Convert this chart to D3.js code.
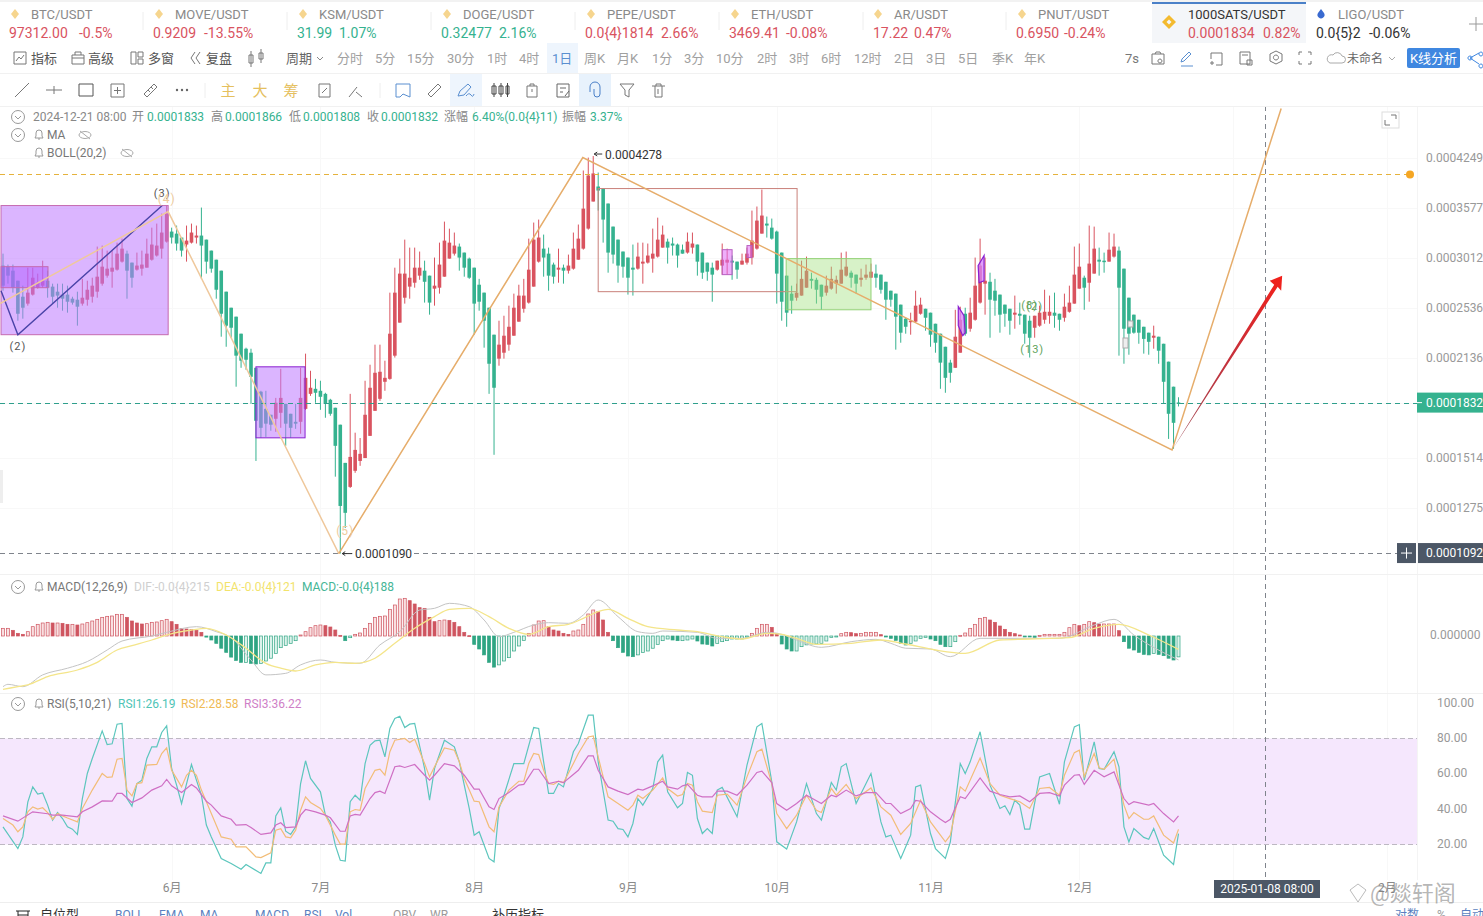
<!DOCTYPE html>
<html lang="en">
<head>
<meta charset="utf-8">
<title>1000SATS/USDT</title>
<script src="https://cdn.jsdelivr.net/npm/d3@7"></script>
<style>
  html, body { margin: 0; padding: 0; background: #fff; overflow: hidden; }
  svg { display: block; }
  text { font-family: Roboto, "Noto Sans CJK SC", sans-serif; }
  .axis .domain, .axis line { display: none; }
</style>
</head>
<body>
<div id="chart"></div>
<script>
// prices are in units of 0.0000001, one entry per daily candle from 2024-04-28
const firstDay = "2024-04-28";
const opens = [
  2935,2924,2884,2786,2637,2575,2656,2720,2739,2786,
  2730,2683,2656,2656,2619,2610,2575,2610,2637,2683,
  2758,2835,2874,2894,2975,3058,2965,2894,2904,2914,
  2995,3038,3111,3187,3299,3276,3232,3155,3176,3232,
  3254,3209,3090,2995,2884,2683,2539,2462,2322,2205,
  2175,2065,1902,1793,1757,1733,1769,1824,1763,1715,
  1715,1793,1888,1921,1908,1888,1850,1800,1698,1489,
  1371,1449,1499,1514,1634,1781,1856,1968,1988,2153,
  2412,2628,2730,2767,2835,2884,2835,2711,2720,2825,
  3006,3058,3133,3069,3006,2914,2748,2674,2539,2314,
  2131,2175,2236,2306,2420,2530,2584,2730,2975,3111,
  3058,2945,2894,2914,2884,2904,2995,3111,3333,3658,
  3852,3825,3633,3356,3209,3080,3017,2914,2904,2955,
  2965,3006,3027,3122,3187,3166,3155,3100,3069,3122,
  3155,3069,2965,2914,2894,2935,2965,2985,2975,2945,
  2965,3017,3111,3276,3391,3344,3299,3069,2835,2665,
  2628,2647,2720,2804,2795,2748,2674,2711,2758,2758,
  2835,2864,2845,2795,2815,2815,2855,2845,2776,2692,
  2665,2566,2445,2420,2420,2487,2530,2496,2403,2322,
  2220,2102,2065,2175,2487,2362,2436,2584,2758,2776,
  2692,2656,2566,2530,2479,2487,2479,2428,2370,2387,
  2436,2470,2496,2487,2453,2504,2575,2711,2815,2767,
  2855,2995,2985,2975,3027,3090,2904,2628,2479,2436,
  2378,2330,2290,2298,2243,2109,1935,1833
];
const highs = [
  3058,2945,2945,2786,2739,2914,2914,2855,2985,2884,
  2758,2758,2758,2739,2637,2683,2804,2786,2815,3133,
  3144,3090,3090,3176,3220,3090,2965,3069,3090,3220,
  3344,3391,3510,3608,3344,3368,3232,3368,3391,3368,
  3583,3209,3090,2995,2884,2683,2539,2462,2322,2213,
  2205,2065,1908,1908,1757,1862,2058,1824,1763,1824,
  2065,2168,2044,1988,1975,1895,1856,1800,1698,1489,
  1888,1652,1622,1975,2087,2236,2236,2116,2674,2914,
  3006,3209,3122,3122,3080,2985,2835,3017,3176,3414,
  3332,3288,3166,3069,3017,2914,2804,2674,2539,2314,
  2428,2470,2557,2665,2748,2804,3220,3403,3438,3265,
  3122,2965,3111,2945,3048,3288,3380,4070,4255,4278,
  4042,3825,3633,3356,3209,3080,3017,3155,3176,3176,
  3166,3333,3461,3368,3220,3232,3166,3155,3288,3288,
  3155,3069,2965,2965,2985,3166,3111,3038,2975,3058,
  3122,3546,3596,3812,3474,3450,3310,3069,2835,2739,
  2758,2985,3027,2864,2815,2748,2835,2924,2835,3069,
  3080,2884,2845,2904,2945,2955,2945,2845,2776,2692,
  2665,2566,2453,2496,2692,2628,2530,2496,2403,2322,
  2220,2123,2521,2548,2539,2628,3017,3220,3017,2864,
  2804,2656,2566,2530,2647,2584,2479,2470,2470,2557,
  2701,2647,2674,2487,2665,2739,3133,3166,2835,3368,
  3356,3122,3069,3288,3276,3133,2904,2628,2479,2436,
  2378,2330,2387,2298,2243,2109,1935,1866
];
const lows = [
  2692,2758,2674,2428,2445,2557,2647,2711,2720,2628,
  2575,2539,2513,2496,2566,2387,2557,2557,2584,2628,
  2739,2815,2720,2884,2965,2619,2720,2884,2835,2914,
  2985,3027,3006,3176,3166,3090,3027,2975,3166,3166,
  2804,2855,2864,2619,2298,2220,2290,1935,2065,2051,
  1824,1499,1623,1628,1663,1657,1680,1579,1623,1674,
  1646,1787,1875,1831,1787,1739,1751,1420,1090,1190,
  1366,1439,1474,1514,1634,1781,1843,1908,1982,2139,
  2412,2575,2619,2720,2795,2584,2479,2557,2665,2825,
  3006,3038,2884,2825,2804,2314,2513,2213,1888,1531,
  2080,2131,2190,2306,2420,2496,2575,2730,2965,2825,
  2692,2758,2767,2758,2855,2894,2995,3100,3321,3658,
  3546,3176,2864,2955,2767,2815,2656,2647,2894,2758,
  2955,2864,3017,3122,2955,3038,2914,3058,3058,3058,
  2835,2804,2786,2592,2884,2845,2845,2795,2804,2945,
  2945,2945,3100,3276,3232,3209,2575,2428,2378,2487,
  2601,2647,2720,2711,2575,2521,2647,2701,2665,2758,
  2825,2720,2665,2730,2795,2815,2720,2665,2436,2548,
  2198,2251,2322,2314,2412,2479,2346,2220,2175,1921,
  1895,1962,2065,2175,2306,2338,2428,2575,2479,2290,
  2470,2330,2378,2314,2362,2395,2243,2139,2290,2378,
  2403,2403,2370,2346,2420,2496,2575,2711,2521,2592,
  2855,2835,2864,2975,3017,2153,2094,2160,2322,2243,
  2168,2160,2205,2094,1824,1617,1563,1808
];
const closes = [
  2739,2835,2720,2487,2539,2674,2815,2767,2786,2720,
  2637,2647,2619,2592,2584,2548,2628,2701,2739,2825,
  2924,2904,2914,3058,3111,2884,2815,2935,2945,3058,
  3155,3144,3288,3510,3232,3166,3090,3198,3288,3254,
  3144,2975,2904,2701,2487,2387,2370,2153,2116,2123,
  2002,1721,1680,1704,1698,1831,1862,1704,1680,1704,
  1862,1995,1928,1895,1869,1824,1763,1579,1284,1254,
  1520,1557,1536,1757,1928,2030,2037,1995,2322,2674,
  2855,2855,2815,2914,2914,2776,2584,2739,2945,3198,
  3176,3144,3017,2914,2815,2575,2592,2428,2094,1928,
  2236,2306,2378,2539,2647,2647,2894,3209,3232,3017,
  2835,2825,2914,2884,2935,3111,3220,3570,4001,4029,
  3799,3438,3069,3048,2935,2924,2815,2894,3027,2975,
  3038,3058,3209,3265,3122,3144,3038,3058,3187,3166,
  2975,2864,2874,2845,2985,2995,2995,2965,2894,2985,
  3058,3198,3426,3486,3368,3220,2855,2592,2496,2601,
  2674,2804,2884,2786,2701,2637,2739,2804,2795,2894,
  2924,2815,2758,2815,2845,2874,2815,2701,2610,2610,
  2462,2330,2378,2428,2557,2566,2453,2314,2251,2102,
  1995,2030,2298,2436,2322,2496,2739,2935,2786,2610,
  2601,2479,2487,2428,2496,2470,2322,2290,2470,2496,
  2504,2504,2470,2436,2548,2584,2845,2924,2720,2955,
  3111,2975,2975,3100,3133,2720,2362,2322,2330,2330,
  2281,2258,2306,2190,1968,1763,1709,1832
];
// MACD histogram, units of 0.000001
const macdBars = [
  6.9,6.9,5.1,2.4,1.5,3.9,8.4,10.5,11.7,12.3,
  11.7,11.7,11.4,10.5,10.5,9.9,10.8,12,13.5,15,
  16.8,17.7,18,19.5,19.5,16.8,13.5,11.7,10.8,11.1,
  12.3,12.6,13.8,15,12.9,10.5,6.6,6.3,6,5.1,
  3.3,-1,-3.6,-6.6,-11,-14.7,-19,-22,-23.7,-23.7,
  -24.6,-25.2,-24.6,-22.5,-20,-15.6,-10.5,-8.4,-6.6,-4.2,
  0.9,3.9,7.5,9.3,9.9,9.3,8.1,5.4,0.6,-4.2,
  -1.5,1.5,2.7,6.9,11.4,16.8,17.7,18,24,27.9,
  33.3,33.9,31.8,28.8,25.5,24.9,16.8,12.9,13.8,14.4,
  14.1,12.3,8.4,3.3,0.3,-7.5,-11.7,-17,-23.7,-28,
  -26,-22.5,-19.5,-13.5,-9,-3.9,2.4,9.9,13.5,13.8,
  8.4,5.4,4.5,2.4,1.5,4.5,5.4,10.5,19.8,23.4,
  21.9,14.4,3.3,-4.2,-10.5,-14.7,-18,-18.6,-17,-14.7,
  -13.5,-11,-7.5,-4.2,-2.7,-3.6,-4.2,-4.2,-3.6,-2.7,
  -4.5,-7.2,-7.5,-9,-6.6,-5.1,-4.2,-2.7,-2.7,-2.7,
  -1,2.4,6.9,10.5,10.5,7.8,2.4,-7.2,-11.7,-13.5,
  -13.5,-9.6,-8,-7.2,-7.2,-6.6,-4.5,-1.2,-0.6,2.1,
  3.3,3,2.1,2.4,3.3,3.3,3.3,1.2,-0.9,-2.1,
  -3.9,-6.6,-8.1,-6.6,-4.5,-2.1,-1.2,-2.7,-4.2,-7.5,
  -9.6,-9.6,-5.1,0.6,2.7,6.9,10.5,15.9,16.8,14.4,
  12.3,9,6,3.3,2.1,0.9,-0.6,-0.9,-1.2,0.6,
  1.5,1.5,1.5,1.5,3.3,7.5,10.5,9.3,10.5,12.9,
  12,10.8,10.8,10.8,10.8,4.8,-5.1,-11,-12.6,-14.7,
  -16.5,-17,-15.6,-16.5,-17.7,-20,-21.6,-18.8
];
// lines below are [candle number, value] read at their turning points
const difLine = [[0,-45.6],[1,-43.5],[4,-45.6],[8,-35],[13,-29],[17,-23],[21,-12.6],[24,-4.5],[30,0],[33,3.3],[39,8.4],[43,3.9],[46,-1.5],[50,-21.6],[53,-35],[57,-33.6],[60,-26],[64,-21.6],[67,-23.7],[72,-24.6],[76,-8],[80,3.9],[84,23.4],[87,24.9],[90,29.4],[94,26.4],[97,14.4],[100,-0.6],[103,3.3],[107,9.9],[110,12],[114,11.4],[117,18.9],[120,32.4],[124,17.4],[128,3.9],[131,2.4],[133,4.5],[140,3.3],[144,-2.1],[149,-2.1],[154,3.3],[157,1.5],[160,-3.6],[165,-10.2],[171,-5.1],[176,-3],[179,-6.6],[182,-11],[187,-11.7],[191,-18.6],[197,-2.1],[202,-2.1],[213,-2.1],[220,9.9],[224,15],[228,0.9],[237,-21.5]];
const deaLine = [[0,-48],[3,-45.6],[5,-44],[9,-36.6],[15,-30.6],[19,-23.7],[23,-12.6],[26,-8.7],[30,-3.6],[33,0.9],[38,5.4],[41,6.9],[45,0.9],[49,-11],[53,-24.6],[56,-29],[59,-31.5],[63,-26],[67,-23.7],[71,-24.6],[75,-20],[79,-6.6],[83,6.9],[87,17.4],[90,24],[94,24.9],[98,17.4],[102,6.9],[106,1.5],[110,8.4],[114,10.5],[117,15.9],[120,21.9],[122,24],[126,15.9],[130,8.4],[136,5.4],[140,3.9],[145,-0.6],[149,-2.7],[154,2.4],[157,1.5],[160,-2.1],[164,-7.5],[171,-6.6],[177,-3.6],[182,-7.2],[188,-12.6],[194,-15.6],[201,-3.6],[207,-2.7],[215,-1.5],[220,6.9],[225,10.5],[231,0.9],[237,-12.1]];
const rsi1 = [[0,30],[3,17.7],[4,24.3],[5,44],[6,52.6],[7,48.5],[8,49.2],[9,42.3],[10,33.8],[11,38.1],[12,34.7],[13,30],[14,28.7],[15,25.7],[16,46],[17,60.2],[18,68.7],[20,84.3],[21,76.6],[22,77],[23,88.1],[24,88.5],[25,46],[26,41.7],[27,54.5],[28,56.4],[29,68.7],[30,75.3],[31,75.3],[32,83.4],[33,87.2],[34,63],[35,53.6],[36,43.2],[38,65.3],[39,56.4],[40,47.9],[41,31],[42,24.3],[44,12.1],[46,9.2],[48,6],[49,8.7],[52,3.6],[53,9.6],[54,9.6],[55,36.2],[56,40.8],[57,27.5],[58,25.7],[59,30],[60,54.5],[61,67.4],[62,57.4],[64,49.8],[65,36.6],[66,32.8],[67,19.6],[68,11.1],[69,10.6],[70,44.2],[71,47.9],[72,45.1],[73,65.8],[74,76.2],[75,78.7],[76,79],[77,69.6],[78,85.7],[79,91.3],[80,92.6],[81,86.2],[82,88.1],[83,88.5],[85,63],[86,45.1],[87,63],[89,79],[91,75.3],[92,66.8],[93,53.6],[94,40.4],[95,25.3],[96,27.2],[98,12.1],[99,10.2],[100,40.4],[101,47.9],[103,65.8],[105,65.8],[107,86.2],[108,85.7],[109,66.8],[110,48.9],[111,48.9],[112,54.5],[113,52.6],[115,72.5],[116,77.2],[118,93.2],[119,93.2],[120,66.8],[122,33.8],[123,33.2],[124,29],[125,28.5],[126,24.3],[127,31.9],[128,46],[129,42.3],[131,51.7],[132,66.8],[133,70.6],[134,49.8],[136,40.8],[137,43.2],[138,60.8],[139,59.2],[140,34.7],[141,26.2],[142,29],[143,26.2],[144,50.8],[145,52.3],[148,35.7],[150,64.9],[152,86.6],[153,88.5],[155,55.5],[156,21.5],[158,17.4],[160,32.8],[162,54.5],[164,37.5],[165,33.8],[167,55.1],[168,50.8],[169,64],[170,65.8],[172,43.2],[175,60.2],[177,32.8],[178,24.3],[179,25.3],[181,12.1],[183,25.3],[184,52.6],[185,53.6],[187,26.2],[188,17.7],[190,12.1],[191,21.5],[193,65.8],[194,60.2],[195,66.8],[197,83.8],[199,53.6],[201,40.4],[202,41.9],[203,37],[204,45.1],[205,42.3],[206,28.7],[207,28.7],[209,58.3],[211,60.2],[213,42.8],[214,66.8],[216,86.6],[217,87.9],[218,56.4],[220,78.1],[221,63],[222,62.6],[224,72.5],[225,64],[226,30],[227,21.5],[228,29],[230,24],[231,23],[232,29],[234,14],[236,8.7],[237,26.19]];
const rsi2 = [[0,34.7],[2,31],[3,27.2],[4,30],[5,38.5],[6,41.3],[7,40],[8,40.8],[9,38],[10,34.3],[11,37.5],[12,36.2],[13,35],[15,32.8],[16,40.4],[18,50.8],[20,60.2],[21,58],[22,58.3],[23,68.3],[24,68.7],[25,50.8],[26,47.5],[27,54.5],[28,55],[29,64.9],[31,65.3],[32,71.5],[33,74.7],[34,62],[35,57.4],[36,52.6],[37,59.2],[38,62],[39,59.2],[40,50.8],[42,37.5],[44,24.3],[46,23],[47,18.7],[49,18.7],[51,13],[52,12.6],[54,15.3],[55,28.1],[56,29],[57,24.3],[58,23.8],[59,28.1],[60,39.4],[61,47],[62,43.8],[64,40.4],[65,36.6],[67,25.3],[68,20.2],[69,20.2],[70,38.5],[71,39.8],[72,39.4],[73,51.7],[75,62],[76,62.6],[77,59.2],[78,72.5],[79,79],[81,80],[82,77.7],[83,79.6],[85,65.8],[86,58.3],[87,64],[89,74.7],[91,73.4],[92,66.8],[93,57.4],[95,44.5],[96,44.2],[98,30],[99,27.2],[100,41.3],[102,50.8],[104,55.8],[105,55.8],[106,65.8],[107,71.5],[108,70.9],[109,62],[110,54.5],[111,54],[112,55.8],[113,55],[115,65.8],[116,71.5],[118,80.9],[119,81.5],[120,69.6],[122,47],[124,43.2],[126,39.4],[127,42.3],[128,47.9],[129,46],[131,50.8],[133,57.7],[134,51.7],[136,47.4],[137,48.3],[138,54.5],[139,53.6],[140,44.2],[141,38.9],[143,38.1],[144,47.9],[146,48.5],[148,42.3],[150,58.3],[152,72.5],[153,74],[155,54.5],[156,37.5],[158,29],[160,36.6],[162,47.9],[164,39.4],[165,38.1],[167,51.7],[168,47.9],[170,54],[172,46],[175,52],[177,41.3],[179,36.6],[181,25.7],[183,31.9],[185,45.1],[187,32.8],[189,25.3],[190,21.5],[191,25.3],[193,52.6],[194,50.2],[197,69],[199,54.5],[201,47.9],[203,46],[205,44.2],[207,40.4],[209,51.7],[211,52.3],[213,47.9],[214,59.2],[216,72],[217,73.4],[218,58.3],[220,71.5],[221,63.4],[222,62.6],[224,68.3],[226,42.3],[227,34.7],[228,38.1],[230,34.3],[231,34.3],[232,36.2],[234,25.3],[236,20.9],[237,28.58]];
const rsi3 = [[0,36.2],[3,33.2],[6,38.5],[9,37.4],[10,36.6],[12,36.6],[15,35.7],[16,38.5],[18,41.3],[20,44.7],[22,44.5],[23,48.9],[24,48.9],[26,43.8],[28,46.4],[30,50.8],[32,53.2],[33,56.8],[34,53.2],[36,49.4],[38,54],[39,52],[41,44.5],[42,42.3],[44,36.2],[46,34.3],[47,31],[49,31.3],[50,29.6],[52,25.7],[54,26.6],[55,31],[56,32.3],[57,29.6],[59,30],[60,36.6],[61,39.8],[63,38.5],[65,36.6],[66,35.1],[68,27.5],[69,27.5],[70,36.2],[71,37],[72,36.6],[74,46],[75,49.4],[76,50.2],[77,48.9],[79,64],[80,64.5],[81,63.6],[83,65.3],[85,59.2],[86,56.4],[87,59.2],[89,65.8],[91,64.5],[93,59.2],[95,51.3],[96,51.3],[98,41.3],[99,39.8],[100,46],[102,49.4],[104,53.6],[105,54],[106,58.3],[107,62.6],[108,62.6],[110,54.5],[112,55.8],[113,55],[116,62],[118,70.2],[119,70.2],[120,62],[122,52.6],[124,50.2],[126,48.3],[128,51.3],[129,50.8],[131,53.2],[133,55.8],[134,52.6],[136,51.3],[137,53.2],[138,54],[140,47.9],[141,47],[143,47],[144,50.2],[146,50.2],[148,47.9],[150,53.6],[152,60.8],[153,61.5],[155,55.1],[156,43.2],[158,39.4],[160,43.2],[162,47.9],[165,43.2],[167,47.9],[168,47],[170,50.8],[172,47.5],[174,49.4],[176,49.4],[178,43.2],[179,43.2],[181,37.5],[183,40.4],[184,44.9],[185,44.5],[187,38.5],[189,34.3],[190,32.5],[191,34.3],[193,47],[194,46],[197,57.7],[199,50.2],[201,48.3],[203,47],[205,47.5],[207,44.2],[209,48.9],[211,49.4],[213,47.4],[214,53.6],[216,59.2],[217,59.6],[218,54],[220,62],[222,58.3],[224,61.1],[225,53.6],[226,46],[227,42.6],[228,44.2],[231,42.3],[232,43.2],[234,37.5],[236,32.8],[237,36.22]];

const priceTicks = [4249,3577,3012,2536,2136,1514,1275];
const rsiTicks = [100,80,60,40,20];
const monthDates = ["2024-06-01","2024-07-01","2024-08-01","2024-09-01","2024-10-01","2024-11-01","2024-12-01","2025-02-01"];
const monthLabels = ["6月","7月","8月","9月","10月","11月","12月","2月"];
const hiddenMonth = "2025-01-01"; // its label sits under the cursor date tag

// hand drawn things on the chart, as [candle number, price]
const waveOrangeEarly = [[-0.6,2575],[33.3,3534],[67.7,1090]];
const waveOrangeLate = [[67.7,1090],[116.9,4255],[235.7,1557],[257.7,5037]];
const waveBlue = [[-0.4,2692],[3,2314],[32.1,3608]];
const purpleBoxes = [[-0.4,33.3,3608,2314],[-0.4,9.07,2924,2720],[51,60.9,2072,1623]];
const pinkBoxes = [[145,147,3100,2845],[150,151,3144,3017]];
const outlineBox = [120,160.1,3825,2683];
const greenBox = [157.9,175,3006,2521];
const purpleShapes = [
  [[192.6,2548],[193.75,2470],[194,2330],[193.5,2306],[192.6,2387]],
  [[197.8,3038],[197.8,2786],[196.8,2767],[196.6,2935]]
];
const redArrow = [[235.7,1557],[256.3,2748],[255.4,2786],[257.9,2835],[257.7,2692],[257,2730]];
const resistancePrice = 4015, lastPrice = 1832, cursorPrice = 1092, cursorDay = 254.5;

const tabNames = ["BTC/USDT","MOVE/USDT","KSM/USDT","DOGE/USDT","PEPE/USDT","ETH/USDT","AR/USDT","PNUT/USDT","1000SATS/USDT","LIGO/USDT"];
const tabPrices = ["97312.00","0.9209","31.99","0.32477","0.0{4}1814","3469.41","17.22","0.6950","0.0001834","0.0{5}2"];
const tabChanges = ["-0.5%","-13.55%","1.07%","2.16%","2.66%","-0.08%","0.47%","-0.24%","0.82%","-0.06%"];
const tabColors = ["r","r","g","g","r","r","r","r","r","k"];
const tabNameX = [31,175,319,463,607,751,894,1038,1188,1338];
const tabPriceX = [9,153,297,441,585,729,873,1016,1188,1316];
const tabChangeX = [79,204,339,499,661,786,914,1064,1263,1369];

const periods = ["分时","5分","15分","30分","1时","4时","1日","周K","月K","1分","3分","10分","2时","3时","6时","12时","2日","3日","5日","季K","年K"];
const periodX = [337,375,407,447,487,519,552,584,617,652,684,716,757,789,821,854,894,926,958,992,1024];

const green = "#35b28f", red = "#d9535f";

const svg = d3.select("#chart").append("svg").attr("width", 1483).attr("height", 916);
const defs = svg.append("defs");
defs.append("clipPath").attr("id", "mainClip").append("rect").attr("x", 0).attr("y", 106).attr("width", 1417).attr("height", 468);

const parseDay = d3.utcParse("%Y-%m-%d");
const start = parseDay(firstDay);
const x = d3.scaleUtc().domain([start, d3.utcDay.offset(start, 237)]).range([3, 1178.5]);
const dayX = d => x(new Date(+start + d * 864e5));
const y = d3.scaleLog().domain([1275, 4249]).range([508, 158]);
const macdY = d3.scaleLinear().domain([-45, 45]).range([686, 586]);
const rsiY = d3.scaleLinear().domain([20, 80]).range([844.5, 738.5]);
const snap = v => Math.round(v) + .5;

function label(g, txt, px, py, color, size, anchor) {
  return g.append("text").attr("x", px).attr("y", py).attr("fill", color || "#777")
    .attr("font-size", size || 12).attr("text-anchor", anchor || "start").text(txt);
}

// ---- grid
const grid = svg.append("g");
[...priceTicks, 1832].forEach(v => {
  grid.append("line").attr("x1", 0).attr("x2", 1417).attr("y1", snap(y(v))).attr("y2", snap(y(v))).attr("stroke", "#f8f8f8");
});
[...monthDates, hiddenMonth].forEach(m => {
  const px = snap(x(parseDay(m)));
  grid.append("line").attr("x1", px).attr("x2", px).attr("y1", 106).attr("y2", 880).attr("stroke", "#f8f8f8");
});
grid.append("line").attr("x1", 1417.5).attr("x2", 1417.5).attr("y1", 106).attr("y2", 880).attr("stroke", "#f4f4f4");
[574.5, 693.5].forEach(py => grid.append("line").attr("x1", 0).attr("x2", 1483).attr("y1", py).attr("y2", py).attr("stroke", "#f1f1f1"));

// ---- candles
const main = svg.append("g").attr("clip-path", "url(#mainClip)");
const candles = d3.range(opens.length);
const candleColor = i => closes[i] >= opens[i] ? red : green;
main.selectAll("line.wick").data(candles).join("line").attr("class", "wick")
  .attr("x1", dayX).attr("x2", dayX)
  .attr("y1", i => y(highs[i])).attr("y2", i => y(lows[i]))
  .attr("stroke", candleColor).attr("stroke-width", 1);
main.selectAll("rect.body").data(candles).join("rect").attr("class", "body")
  .attr("x", i => dayX(i) - 1.8).attr("width", 3.6)
  .attr("y", i => y(Math.max(opens[i], closes[i])))
  .attr("height", i => Math.max(1.5, Math.abs(y(opens[i]) - y(closes[i]))))
  .attr("fill", candleColor);

// ---- boxes over the candles
function box(b, fill, stroke) {
  main.append("rect").attr("x", dayX(b[0])).attr("width", dayX(b[1]) - dayX(b[0]))
    .attr("y", y(b[2])).attr("height", y(b[3]) - y(b[2]))
    .attr("fill", fill).attr("stroke", stroke).attr("stroke-width", 1);
}
box(purpleBoxes[0], "rgba(190,120,255,.55)", "#c56ab0");
box(purpleBoxes[1], "rgba(175,90,255,.5)", "#c56ab0");
box(purpleBoxes[2], "rgba(190,120,255,.55)", "#8a1fd0");
pinkBoxes.forEach(b => box(b, "rgba(225,110,245,.55)", "#b860c0"));
box(outlineBox, "none", "#c9807a");
box(greenBox, "rgba(160,225,125,.42)", "#93d176");
const shapeLine = d3.line().x(d => dayX(d[0])).y(d => y(d[1]));
purpleShapes.forEach(s => {
  main.append("path").attr("d", shapeLine(s) + "Z").attr("fill", "rgba(215,130,250,.75)").attr("stroke", "#8a1fd0").attr("stroke-width", 1.2);
});

// ---- dashed price lines
function priceLine(v, color, x2) {
  main.append("line").attr("x1", 0).attr("x2", x2).attr("y1", snap(y(v))).attr("y2", snap(y(v)))
    .attr("stroke", color).attr("stroke-dasharray", "5 4");
}
priceLine(resistancePrice, "#e5b23c", 1410);
priceLine(lastPrice, "#2f9f8c", 1417);
priceLine(cursorPrice, "#7f848c", 1397);
main.append("circle").attr("cx", 1410).attr("cy", snap(y(resistancePrice))).attr("r", 4).attr("fill", "#f5a623");
main.append("line").attr("x1", snap(dayX(cursorDay))).attr("x2", snap(dayX(cursorDay))).attr("y1", 106).attr("y2", 574)
  .attr("stroke", "#7f848c").attr("stroke-dasharray", "5 4");

// ---- wave lines
main.append("path").attr("d", shapeLine(waveBlue)).attr("fill", "none").attr("stroke", "#4a44a8").attr("stroke-width", 1.4);
main.append("path").attr("d", shapeLine(waveOrangeEarly)).attr("fill", "none").attr("stroke", "#efc89c").attr("stroke-width", 1.5);
main.append("path").attr("d", shapeLine(waveOrangeLate)).attr("fill", "none").attr("stroke", "#e6ad6b").attr("stroke-width", 1.5);

const grad = defs.append("linearGradient").attr("id", "arrowFill").attr("gradientUnits", "userSpaceOnUse")
  .attr("x1", dayX(redArrow[0][0])).attr("y1", y(redArrow[0][1])).attr("x2", dayX(redArrow[3][0])).attr("y2", y(redArrow[3][1]));
grad.append("stop").attr("offset", "0").attr("stop-color", "#9c4a55");
grad.append("stop").attr("offset", ".55").attr("stop-color", "#c8303a");
grad.append("stop").attr("offset", "1").attr("stop-color", "#f2201a");
main.append("path").attr("d", shapeLine(redArrow) + "Z").attr("fill", "url(#arrowFill)");

// wave numbers and the high / low tags
label(main, "(2)", dayX(3), 350, "#555", 11, "middle").attr("letter-spacing", 1);
label(main, "(3)", dayX(32.1), 197, "#555", 11, "middle").attr("letter-spacing", 1);
label(main, "(4)", dayX(33), 203, "#eecb9c", 12, "middle").attr("letter-spacing", 1);
label(main, "(5)", dayX(69), 535, "#eecb9c", 12, "middle").attr("letter-spacing", 1);
label(main, "(8)", dayX(207), 309, "#5fa35a", 11, "middle").attr("letter-spacing", 1);
label(main, "(2)", dayX(208), 310, "#5fa35a", 11, "middle").attr("letter-spacing", 1);
label(main, "(13)", dayX(207.5), 353, "#5fa35a", 11, "middle").attr("letter-spacing", 1);
[[1128,321,5,6],[1123,338,5,10]].forEach(r => main.append("rect").attr("x", r[0]).attr("y", r[1]).attr("width", r[2]).attr("height", r[3]).attr("fill", "#eee").attr("stroke", "#aaa"));

const hiTag = main.append("g");
hiTag.append("path").attr("d", `M${dayX(119)},${y(4278) - 2}m1,0h8m-8,0l3,-2m-3,2l3,2`).attr("fill", "none").attr("stroke", "#333");
label(hiTag, "0.0004278", 605, 159, "#333", 12);
const loTag = main.append("g");
loTag.append("rect").attr("x", 352).attr("y", y(1090) - 7).attr("width", 58).attr("height", 14).attr("fill", "#fff");
loTag.append("path").attr("d", `M${dayX(68)},${y(1090)}m2,0h10m-10,0l3,-2m-3,2l3,2`).attr("fill", "none").attr("stroke", "#333");
label(loTag, "0.0001090", 355, y(1090) + 4, "#333", 12);

// ---- price axis
const priceAxis = d3.axisRight(y).tickValues(priceTicks).tickSize(0).tickPadding(0)
  .tickFormat(v => (v / 1e7).toFixed(7));
svg.append("g").attr("class", "axis").attr("transform", "translate(1426,0)").call(priceAxis)
  .call(g => g.selectAll("text").attr("fill", "#999").attr("font-size", 12).style("font-family", "Roboto"));

svg.append("rect").attr("x", 1417).attr("y", y(lastPrice) - 10).attr("width", 66).attr("height", 20).attr("fill", green);
svg.append("line").attr("x1", 1417).attr("x2", 1422).attr("y1", y(lastPrice)).attr("y2", y(lastPrice)).attr("stroke", "#fff");
label(svg, "0.0001832", 1426, y(lastPrice) + 4, "#fff", 12);
svg.append("rect").attr("x", 1397).attr("y", y(cursorPrice) - 10).attr("width", 19).attr("height", 20).attr("fill", "#4c5766");
svg.append("path").attr("d", `M1401,${y(cursorPrice)}h11M1406.5,${y(cursorPrice) - 5.5}v11`).attr("stroke", "#fff");
svg.append("rect").attr("x", 1418).attr("y", y(cursorPrice) - 10).attr("width", 65).attr("height", 20).attr("fill", "#4c5766");
label(svg, "0.0001092", 1426, y(cursorPrice) + 4, "#fff", 12);

// ---- MACD pane
const macd = svg.append("g");
const barRising = i => i === 0 || macdBars[i] >= macdBars[i - 1];
const barStroke = i => macdBars[i] >= 0 ? "#cf5560" : "#2fa583";
macd.selectAll("rect").data(d3.range(macdBars.length)).join("rect")
  .attr("x", i => dayX(i) - 1.5).attr("width", 3)
  .attr("y", i => Math.min(macdY(0), macdY(macdBars[i])))
  .attr("height", i => Math.max(1, Math.abs(macdY(macdBars[i]) - macdY(0))))
  .attr("fill", i => barRising(i) ? (macdBars[i] >= 0 ? "#f9e0e1" : "#dcf2eb") : barStroke(i))
  .attr("stroke", barStroke).attr("stroke-width", .7);
const macdLine = d3.line().x(d => dayX(d[0])).y(d => macdY(d[1])).curve(d3.curveMonotoneX);
macd.append("path").attr("d", macdLine(difLine)).attr("fill", "none").attr("stroke", "#c4c4c4");
macd.append("path").attr("d", macdLine(deaLine)).attr("fill", "none").attr("stroke", "#f4e58a").attr("stroke-width", 1.3);
label(svg, "0.000000", 1430, 639, "#999", 12);

// ---- RSI pane
svg.append("rect").attr("x", 0).attr("width", 1417).attr("y", rsiY(80)).attr("height", rsiY(20) - rsiY(80)).attr("fill", "#f5e7fd");
[80, 20].forEach(v => svg.append("line").attr("x1", 0).attr("x2", 1417).attr("y1", rsiY(v)).attr("y2", rsiY(v))
  .attr("stroke", "#bdb8c2").attr("stroke-dasharray", "5 3"));
const rsiLine = d3.line().x(d => dayX(d[0])).y(d => rsiY(d[1]));
[[rsi1, "#5cc6bd"], [rsi2, "#f2bd78"], [rsi3, "#cf6fc4"]].forEach(s => {
  svg.append("path").attr("d", rsiLine(s[0])).attr("fill", "none").attr("stroke", s[1]).attr("stroke-width", 1.2);
});
const rsiAxis = d3.axisRight(rsiY).tickValues(rsiTicks).tickSize(0).tickPadding(0).tickFormat(d3.format(".2f"));
svg.append("g").attr("class", "axis").attr("transform", "translate(1437,-1)").call(rsiAxis)
  .call(g => g.selectAll("text").attr("fill", "#999").attr("font-size", 12).style("font-family", "Roboto"));
svg.append("line").attr("x1", snap(dayX(cursorDay))).attr("x2", snap(dayX(cursorDay))).attr("y1", 575).attr("y2", 880)
  .attr("stroke", "#7f848c").attr("stroke-dasharray", "5 4");

// ---- time axis
const timeAxis = d3.axisBottom(x).tickValues(monthDates.map(parseDay)).tickSize(0).tickPadding(0)
  .tickFormat((d, i) => monthLabels[i]);
svg.append("g").attr("class", "axis").attr("transform", "translate(0,883)").call(timeAxis)
  .call(g => g.selectAll("text").attr("fill", "#8a8a8a").attr("font-size", 12).style("font-family", "Roboto, 'Noto Sans CJK SC'"));
svg.append("rect").attr("x", 1214).attr("y", 880).attr("width", 106).attr("height", 18).attr("fill", "#4c5766");
label(svg, "2025-01-08 08:00", 1267, 893, "#fff", 12, "middle");

// ---- top tabs
svg.append("rect").attr("x", 0).attr("y", 0).attr("width", 1483).attr("height", 2).attr("fill", "#f2f2f2");
svg.append("rect").attr("x", 1152).attr("y", 2).attr("width", 154).attr("height", 41).attr("fill", "#f4f6f9");
svg.append("rect").attr("x", 1152).attr("y", 2).attr("width", 154).attr("height", 2).attr("fill", "#4a80c8");
const tabColor = { r: red, g: green, k: "#333" };
tabNames.forEach((name, i) => {
  const active = i === 8;
  label(svg, name, tabNameX[i], 19, active ? "#333" : "#8a8a8a", 13);
  label(svg, tabPrices[i], tabPriceX[i], 38, tabColor[tabColors[i]], 14);
  label(svg, tabChanges[i], tabChangeX[i], 38, tabColor[tabColors[i]], 14);
  if (i < 8) {
    const ix = tabNameX[i] - 16;
    svg.append("path").attr("d", `M${ix},9l4,5l-4,5l-4,-5Z`).attr("fill", "#f6d58e");
    if (i > 0) svg.append("line").attr("x1", tabPriceX[i] - 10).attr("x2", tabPriceX[i] - 10).attr("y1", 12).attr("y2", 30).attr("stroke", "#eee");
  }
});
svg.append("path").attr("d", "M1169,15l7,7l-7,7l-7,-7Z").attr("fill", "#f3ba2f");
svg.append("path").attr("d", "M1169,19.5l2.5,2.5l-2.5,2.5l-2.5,-2.5Z").attr("fill", "#f4f6f9");
svg.append("path").attr("d", "M1321,9l3,4a3.5,3.5 0 1,1 -6,0Z").attr("fill", "#3a6ad0");
svg.append("path").attr("d", "M1469,24h14M1476,17v14").attr("stroke", "#999");

// ---- second toolbar row
svg.append("rect").attr("x", 547).attr("y", 43).attr("width", 31).attr("height", 30).attr("fill", "#eef5fd");
[["指标",31],["高级",88],["多窗",148],["复盘",206]].forEach(d => label(svg, d[0], d[1], 63, "#555", 13));
label(svg, "周期", 286, 63, "#666", 13);
svg.append("path").attr("d", "M317,57l3,3l3,-3").attr("fill", "none").attr("stroke", "#888");
periods.forEach((p, i) => label(svg, p, periodX[i], 63, i === 6 ? "#5a8fd0" : "#a0a0a0", 13));
label(svg, "7s", 1125, 63, "#777", 13);
label(svg, "未命名", 1347, 63, "#666", 12);
svg.append("path").attr("d", "M1389,57l3,3l3,-3").attr("fill", "none").attr("stroke", "#aaa");
svg.append("rect").attr("x", 1407).attr("y", 48).attr("width", 53).attr("height", 20).attr("rx", 2).attr("fill", "#3f87e0");
label(svg, "K线分析", 1433.5, 63, "#fff", 13, "middle");

const iconStroke = "#777";
function icon(d, color) {
  svg.append("path").attr("d", d).attr("fill", "none").attr("stroke", color || iconStroke).attr("stroke-width", 1);
}
icon("M14,52h12v12h-12ZM16,61l3,-4l2,2l3,-4");
icon("M72,55h12v9h-12ZM75,55v-3h6v3M72,58h12");
icon("M131,52h5v12h-5ZM138,52h5v5h-5ZM138,59h5v5h-5Z");
icon("M195,52l-4,6l4,6M200,52l-4,6l4,6");
icon("M249,55h4v8h-4ZM251,51v16M259,53h4v6h-4ZM261,49v14");
icon("M1152,54h12v10h-12ZM1155,54l1,-2h4l1,2M1160,59a2,2 0 1,1 -0.1,0");
icon("M1181,62l1,-3l7,-7l2,2l-7,7ZM1181,66h12", "#5a8fd0");
icon("M1211,53h11v12h-6M1211,53v6M1210,63h4M1212,61v4");
icon("M1240,52h10v12h-10ZM1242,55h6M1247,60h5v5h-5Z");
icon("M1276,51l6,3v7l-6,3l-6,-3v-7ZM1276,55a2.5,2.5 0 1,1 -0.1,0");
icon("M1299,52h3M1299,52v3M1311,52h-3M1311,52v3M1299,64h3M1299,64v-3M1311,64h-3M1311,64v-3");
icon("M1330,63h12a3,3 0 0,0 0,-7a5,5 0 0,0 -9,-1a4,4 0 0,0 -3,8Z", "#aaa");
icon("M1470,58l9,-5M1470,58l9,6M1481,52a2,2 0 1,1 -0.1,0M1481,64a2,2 0 1,1 -0.1,0M1470,56a2,2 0 1,1 -0.1,0", "#3f87e0");
[73.5, 106.5].forEach(py => svg.append("line").attr("x1", 0).attr("x2", 1483).attr("y1", py).attr("y2", py).attr("stroke", "#f1f1f1"));

// ---- third toolbar row
[[466, "#eef5fd"], [595, "#e8f2fc"]].forEach(d => svg.append("rect").attr("x", d[0] - 16).attr("y", 74).attr("width", 32).attr("height", 32).attr("fill", d[1]));
icon("M15,97l14,-14");
icon("M46,90h16M54,86v8");
icon("M79,84h14v12h-14Z", "#555");
icon("M111,84h13v13h-13ZM117.5,87v7M114,90.5h7");
icon("M144,94l10,-10l3,3l-10,10ZM148,90l2,2M151,87l2,2");
[177, 182, 187].forEach(px => svg.append("circle").attr("cx", px).attr("cy", 90).attr("r", 1.2).attr("fill", "#666"));
svg.append("line").attr("x1", 205).attr("x2", 205).attr("y1", 83).attr("y2", 98).attr("stroke", "#eee");
[["主",228],["大",260],["筹",291]].forEach(d => label(svg, d[0], d[1], 96, "#e5c05e", 15, "middle"));
icon("M319,84h11v13h-11ZM322,93l5,-5");
icon("M349,97l8,-10M356,92l6,5");
svg.append("line").attr("x1", 380).attr("x2", 380).attr("y1", 83).attr("y2", 98).attr("stroke", "#eee");
icon("M396,84h14v13l-7,-3l-3,3h-4Z", "#5a8fd0");
icon("M428,94l10,-10l3,3l-10,10Z");
icon("M458,96l2,-5l8,-7l3,3l-7,8ZM466,96q3,-4 5,-1t3,-1", "#5a8fd0");
icon("M492,86h4v8h-4ZM494,83v14M499,86h4v8h-4ZM501,83v14M506,86h3v8h-3ZM507.5,83v14", "#444");
icon("M527,86h10v11h-10ZM530,86v-2h4v2M532,89v3");
icon("M557,84h12v13h-12ZM560,88h6M560,92h3M565,96l4,-5", "#666");
icon("M590,92v-5a5,5 0 0,1 10,0v7a3,3 0 0,1 -6,0v-5", "#4a80c8");
icon("M620,84h14l-5,6v7l-4,-2v-5Z");
icon("M652,86h13M655,86v11h7v-11M656,86v-2h5v2M658,89v5");

// ---- info lines
function chevron(cy) {
  svg.append("circle").attr("cx", 18).attr("cy", cy).attr("r", 6.5).attr("fill", "none").attr("stroke", "#999");
  icon(`M15,${cy - 1}l3,3l3,-3`, "#999");
}
function bell(bx, cy) {
  icon(`M${bx - 3},${cy + 2}v-3a3,3 0 0,1 6,0v3l1,2h-8ZM${bx - 1},${cy + 5}h2`, "#999");
}
chevron(117); chevron(135); chevron(587); chevron(704);
bell(39, 134); bell(39, 152); bell(39, 586); bell(39, 703);
[["2024-12-21 08:00",33,"#888"],["开",132,"#888"],["0.0001833",147,green],["高",211,"#888"],["0.0001866",225,green],
 ["低",289,"#888"],["0.0001808",303,green],["收",367,"#888"],["0.0001832",381,green],["涨幅",444,"#888"],
 ["6.40%(0.0{4}11)",472,green],["振幅",562,"#888"],["3.37%",590,green]].forEach(d => label(svg, d[0], d[1], 121, d[2], 12));
label(svg, "MA", 47, 139, "#777", 12);
label(svg, "BOLL(20,2)", 47, 157, "#777", 12);
[85, 127].forEach((px, i) => {
  const cy = i ? 153 : 135;
  svg.append("ellipse").attr("cx", px).attr("cy", cy).attr("rx", 6).attr("ry", 3.5).attr("fill", "none").attr("stroke", "#aaa");
  icon(`M${px - 5},${cy - 4}l10,8`, "#aaa");
});
label(svg, "MACD(12,26,9)", 47, 591, "#777", 12);
label(svg, "DIF:-0.0{4}215", 134, 591, "#cfcfcf", 12);
label(svg, "DEA:-0.0{4}121", 216, 591, "#f2e36b", 12);
label(svg, "MACD:-0.0{4}188", 302, 591, "#45b596", 12);
label(svg, "RSI(5,10,21)", 47, 708, "#777", 12);
label(svg, "RSI1:26.19", 118, 708, "#4fc4b6", 12);
label(svg, "RSI2:28.58", 181, 708, "#efba55", 12);
label(svg, "RSI3:36.22", 244, 708, "#cf7fc7", 12);

svg.append("rect").attr("x", 1382).attr("y", 112).attr("width", 17).attr("height", 16).attr("fill", "#fff").attr("stroke", "#ddd");
icon("M1391,115h5v4M1385,120v5h5", "#777");
svg.append("rect").attr("x", 0).attr("y", 470).attr("width", 3).attr("height", 33).attr("fill", "#eee");

// ---- bottom strip, cut by the window edge
svg.append("line").attr("x1", 0).attr("x2", 1483).attr("y1", 902.5).attr("y2", 902.5).attr("stroke", "#eee");
icon("M16,911h14M18,911v7M28,911v7M18,915h10", "#222");
label(svg, "自位型", 40, 919, "#333", 13);
[["BOLL",115],["EMA",159],["MA",200],["MACD",255],["RSI",304],["Vol",335]].forEach(d => label(svg, d[0], d[1], 919, "#5a7fc0", 12));
[["OBV",393],["WR",430]].forEach(d => label(svg, d[0], d[1], 919, "#9a9a9a", 12));
label(svg, "补历指标", 492, 919, "#333", 13);
[["对数",1395,"#5a7fc0"],["%",1437,"#9a9a9a"],["自动",1460,"#5a7fc0"]].forEach(d => label(svg, d[0], d[1], 919, d[2], 12));

// watermark
label(svg, "@燚轩阁", 1370, 901, "rgba(120,120,120,.55)", 22);
icon("M1350,890l8,-6l8,6l-8,12Z", "rgba(120,120,120,.5)");
</script>
</body>
</html>
